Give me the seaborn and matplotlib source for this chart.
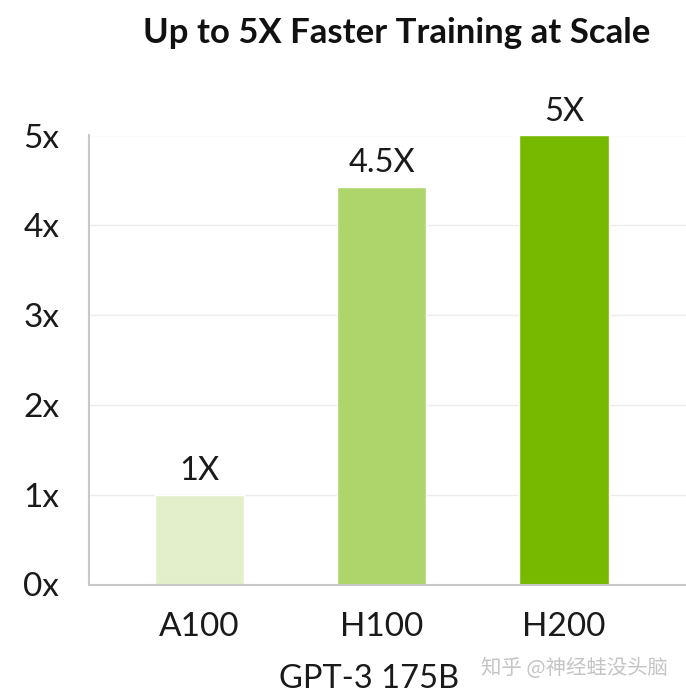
import matplotlib
matplotlib.use('Agg')
import matplotlib.pyplot as plt
import seaborn as sns
import pandas as pd

# values
gpus       = ['A100', 'H100', 'H200']
speedup    = [1.0, 4.43, 5.0]
bar_labels = ['1X', '4.5X', '5X']
bar_colors = ['#e3efcb', '#aed56b', '#76b900']
y_ticks    = [0, 1, 2, 3, 4, 5]
y_labels   = ['0x', '1x', '2x', '3x', '4x', '5x']

sns.set_style('white')
plt.rcParams['font.family'] = ['Lato', 'DejaVu Sans']

df = pd.DataFrame({'gpu': gpus, 'speedup': speedup})

W, H = 686, 695
fig = plt.figure(figsize=(W / 100, H / 100), dpi=100)
ax  = fig.add_axes([88.5 / W, (H - 584.5) / H, (W - 88.5) / W, (584.5 - 135.5) / H])

ax.yaxis.grid(True, color='#ececec', lw=1)
ax.set_axisbelow(True)

sns.barplot(data=df, x='gpu', y='speedup', hue='gpu', palette=bar_colors,
            legend=False, width=0.49, saturation=1, ax=ax)

ax.set_xlim(-0.61, 2.67)
ax.set_ylim(0, 5)
ax.set_yticks(y_ticks)
ax.set_yticklabels(y_labels)
ax.tick_params(axis='both', length=0, labelsize=24, labelcolor='#1a1a1a')
ax.tick_params(axis='x', pad=20)
ax.tick_params(axis='y', pad=21)
ax.set_xlabel('')
ax.set_ylabel('')

sns.despine(ax=ax, top=True, right=True)
for side in ['left', 'bottom']:
    ax.spines[side].set_color('#c8c8c8')
    ax.spines[side].set_linewidth(1.5)

for i, lab in enumerate(bar_labels):
    ax.annotate(lab, (i, speedup[i]), xytext=(0, 6), textcoords='offset points',
                ha='center', va='bottom', fontsize=23.5, color='#1a1a1a',
                annotation_clip=False)

fig.text(397 / W, 1 - 33 / H, 'Up to 5X Faster Training at Scale', ha='center',
         va='center', fontsize=25, fontweight='bold', color='#111111')
fig.text(369 / W, 1 - 679 / H, 'GPT-3 175B', ha='center', va='center',
         fontsize=23.5, color='#1a1a1a')
fig.text(574 / W, 1 - 668 / H, '知乎 @神经蛙没头脑', ha='center', va='center',
         fontsize=14.7, color='#c4c4c4', family=['Noto Sans CJK SC', 'DejaVu Sans'])

fig.savefig('out.png', dpi=100)
